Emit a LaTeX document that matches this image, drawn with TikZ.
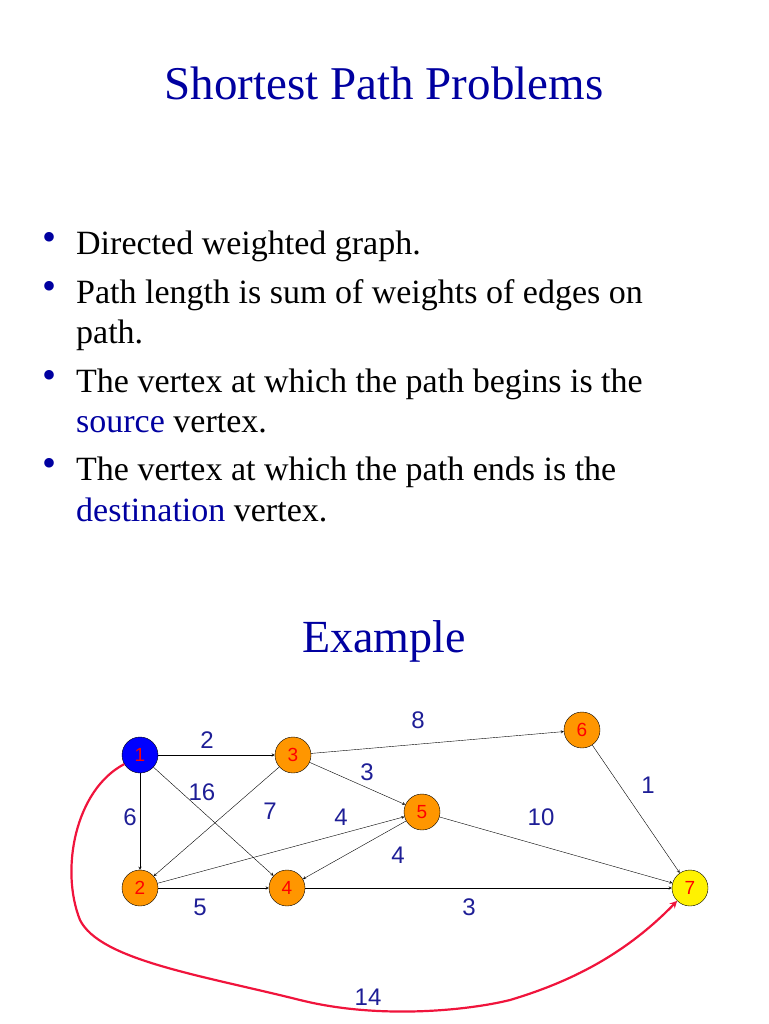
\documentclass[tikz,border=0pt]{standalone}
\usepackage{fontspec}
\setmainfont{Liberation Serif}
\newfontfamily\sansf{Liberation Sans}
\definecolor{ttl}{RGB}{0,0,160}
\definecolor{lbl}{RGB}{30,30,150}
\definecolor{org}{RGB}{255,150,0}
\definecolor{rd}{RGB}{240,20,60}
\begin{document}
\begin{tikzpicture}[x=1pt,y=-1pt,
  vtx/.style={circle,draw=black,fill=org,minimum size=36pt,inner sep=0pt,font=\sansf\fontsize{19}{19}\selectfont,text=red},
  wl/.style={font=\sansf\fontsize{24}{24}\selectfont,text=lbl},
  bt/.style={anchor=base west,inner sep=0pt,font=\fontsize{34}{34}\selectfont},
  ed/.style={->,>=stealth,thin}]
\useasboundingbox (0,0) rectangle (768,1024);
\node[font=\fontsize{47}{47}\selectfont,text=ttl] (title) at (384,83) {Shortest Path Problems};
\foreach \y in {254,303,392,480}{\node[anchor=base,inner sep=0pt,font=\fontsize{40}{40}\selectfont,text=ttl] at (50,\y-4) {\textbullet};}
\node[bt] (b1) at (76,254) {Directed weighted graph.};
\node[bt] (b2) at (76,303) {Path length is sum of weights of edges on};
\node[bt] (b2b) at (76,343) {path.};
\node[bt] (b3) at (76,392) {The vertex at which the path begins is the};
\node[bt] (b3b) at (76,432) {\textcolor{ttl}{source} vertex.};
\node[bt] (b4) at (76,480) {The vertex at which the path ends is the};
\node[bt] (b4b) at (76,521) {\textcolor{ttl}{destination} vertex.};
\node[font=\fontsize{46}{46}\selectfont,text=ttl] (ex) at (384,641) {Example};
\node[vtx,fill=blue] (n1) at (140,755) {1};
\node[vtx] (n3) at (293,755) {3};
\node[vtx] (n6) at (582,730) {6};
\node[vtx] (n5) at (422,812) {5};
\node[vtx] (n2) at (140,888) {2};
\node[vtx] (n4) at (287,888) {4};
\node[vtx,fill=yellow] (n7) at (690,888) {7};
\draw[ed] (n1)--(n3); \draw[ed] (n1)--(n2); \draw[ed] (n1)--(n4);
\draw[ed] (n3)--(n6); \draw[ed] (n3)--(n5); \draw[ed] (n3)--(n2);
\draw[ed] (n2)--(n5); \draw[ed] (n5)--(n4); \draw[ed] (n5)--(n7);
\draw[ed] (n6)--(n7); \draw[ed] (n2)--(n4); \draw[ed] (n4)--(n7);
\draw[rd,line width=2.2pt,->,>=stealth] (n1.210) .. controls (75,790) and (60,870) .. (80,920)
  .. controls (100,960) and (200,975) .. (300,1000)
  .. controls (380,1020) and (470,1010) .. (510,1000)
  .. controls (560,985) and (620,960) .. (n7.225);
\node[wl] at (207,740) {2}; \node[wl] at (418,720) {8}; \node[wl] at (367,772) {3};
\node[wl] at (648,785) {1}; \node[wl] at (202,792) {16}; \node[wl] at (270,811) {7};
\node[wl] at (341,817) {4}; \node[wl] at (541,817) {10}; \node[wl] at (130,817) {6};
\node[wl] at (398,855) {4}; \node[wl] at (200,907) {5}; \node[wl] at (469,907) {3};
\node[wl] at (368,997) {14};
\end{tikzpicture}
\end{document}
